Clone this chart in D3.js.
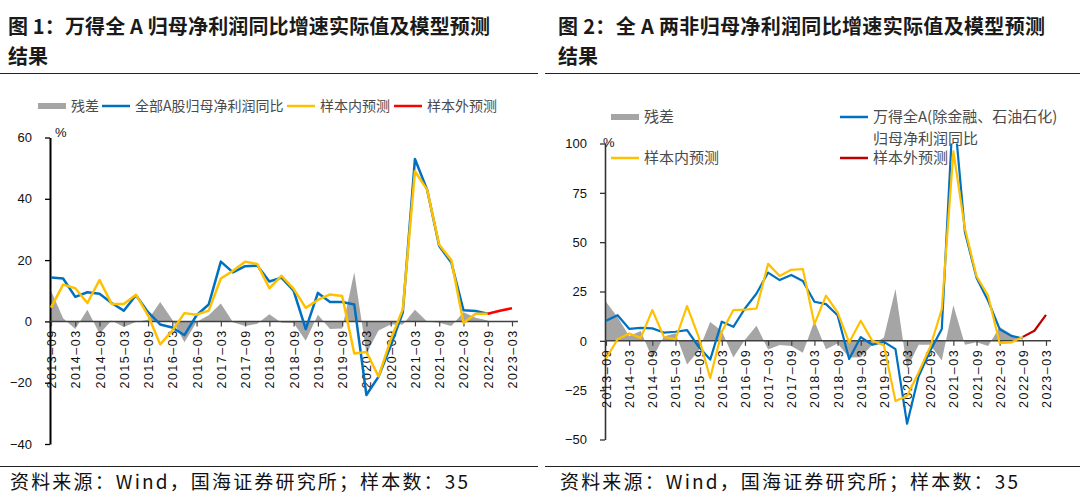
<!DOCTYPE html>
<html>
<head>
<meta charset="utf-8">
<script src="https://cdn.jsdelivr.net/npm/d3@7"></script>
<style>
  body { margin: 0; background: #fff; }
  svg { display: block; }
</style>
</head>
<body>
<svg id="chart" width="1080" height="500"></svg>
<script>
// quarters on the category axis (last two are out-of-sample)
const quarters = ["2013-09","2013-12","2014-03","2014-06","2014-09","2014-12","2015-03","2015-06",
  "2015-09","2015-12","2016-03","2016-06","2016-09","2016-12","2017-03","2017-06","2017-09","2017-12",
  "2018-03","2018-06","2018-09","2018-12","2019-03","2019-06","2019-09","2019-12","2020-03","2020-06",
  "2020-09","2020-12","2021-03","2021-06","2021-09","2021-12","2022-03","2022-06","2022-09","2022-12","2023-03"];
const tickLabels = ["2013-09","2014-03","2014-09","2015-03","2015-09","2016-03","2016-09","2017-03",
  "2017-09","2018-03","2018-09","2019-03","2019-09","2020-03","2020-09","2021-03","2021-09","2022-03",
  "2022-09","2023-03"];
const oosQuarters = ["2022-09","2022-12","2023-03"];

// chart 1: all-A net profit yoy (%)
const allAActual = [14.3, 14.0, 8.0, 9.5, 9.0, 6.0, 3.5, 8.5, 3.0, -1.0, -2.0, -4.5, 2.0, 5.5, 19.5, 16.0,
  18.0, 18.2, 13.0, 14.3, 10.0, -2.5, 9.3, 6.3, 6.3, 5.5, -24.0, -18.0, -8.0, 3.0, 53.0, 43.0, 24.6, 19.2,
  3.6, 3.4, 2.5];
const allAFit = [4.5, 12.0, 10.8, 6.0, 13.5, 5.7, 5.7, 8.7, 2.0, -7.5, -3.0, 2.7, 2.2, 3.5, 14.0, 16.5,
  19.5, 18.7, 10.8, 14.9, 10.6, 4.4, 7.0, 8.8, 8.3, -10.5, -10.0, -18.0, -6.0, 4.0, 49.0, 43.0, 25.0, 20.0,
  -0.5, 2.5, 2.5];
const allAResid = [10.0, 1.0, -2.5, 3.8, -4.0, 0.3, -1.8, -0.2, 0.5, 6.3, 0.5, -6.8, -0.2, 2.0, 5.8, -0.3,
  -1.5, -0.8, 2.3, -0.4, -0.5, -6.3, 2.2, -2.5, -2.3, 16.0, -10.5, -3.0, -1.0, -1.0, 3.8, 0.0, -0.4, -1.5,
  3.0, 1.2, 0.3];
const allAOos = [2.5, 3.5, 4.3];

// chart 2: all-A ex financials & petro net profit yoy (%)
const exFinActual = [10.2, 13.0, 6.1, 6.6, 6.3, 4.2, 4.6, 5.4, -3.0, -9.5, 9.7, 7.1, 16.4, 24.0, 34.6, 30.8,
  33.4, 30.3, 19.8, 18.6, 13.0, -9.2, 1.9, -2.0, -0.5, -4.2, -42.0, -18.0, -5.0, 6.0, 120.0, 55.0, 32.0,
  20.3, 5.9, 2.5, 1.2];
const exFinFit = [-9.0, 0.8, 3.7, 1.5, 15.6, 2.0, 0.8, 17.6, 2.0, -18.8, 4.6, 15.6, 15.8, 16.4, 39.0, 32.9,
  36.0, 36.4, 8.5, 22.9, 14.4, -0.8, 10.2, 0.0, -2.2, -30.5, -28.0, -16.0, -3.0, 16.0, 96.0, 56.8, 32.7,
  22.9, -1.2, -0.8, 2.0];
const exFinResid = [19.8, 12.0, 2.4, 5.0, -9.0, 2.2, 3.8, -12.0, -5.0, 9.5, 5.0, -8.5, 0.6, 7.6, -4.4, -2.1,
  -2.6, -6.0, 10.0, -4.3, -1.4, -8.4, -8.3, -2.0, 1.7, 26.3, -14.0, -2.0, -2.0, -10.0, 18.0, -2.0, -0.7,
  -2.6, 7.0, 3.3, -0.5];
const exFinOos = [2.0, 5.1, 13.2];

const yTicks1 = [-40, -20, 0, 20, 40, 60];
const yTicks2 = [-50, -25, 0, 25, 50, 75, 100];

const svg = d3.select("#chart");
const cjk = "'Noto Sans CJK SC', sans-serif";
const latin = "'Liberation Sans', Arial, sans-serif";

// titles, rules and source lines
function drawFrame(f) {
  f.lines.forEach((t, i) => {
    const txt = svg.append("text")
      .attr("x", f.textX).attr("y", 34 + i * 30)
      .style("font-family", cjk).style("font-weight", 700).style("font-size", "20px")
      .attr("fill", "#1a1a1a")
      .text(t);
    if (i === 0) txt.attr("textLength", f.titleLen).attr("lengthAdjust", "spacing");
  });
  svg.append("line").attr("x1", f.x0).attr("x2", f.x1).attr("y1", 73.5).attr("y2", 73.5)
    .attr("stroke", "#222").attr("stroke-width", 1);
  svg.append("line").attr("x1", f.x0).attr("x2", f.x1).attr("y1", 466.5).attr("y2", 466.5)
    .attr("stroke", "#222").attr("stroke-width", 1);
  svg.append("text")
    .attr("x", f.textX + 2).attr("y", 489)
    .attr("textLength", 458).attr("lengthAdjust", "spacing")
    .style("font-family", cjk).style("font-size", "19px")
    .attr("fill", "#111")
    .text(f.source);
}

function drawPanel(cfg) {
  const g = svg.append("g");
  const x = d3.scalePoint().domain(quarters).range(cfg.xRange);
  const y = d3.scaleLinear().domain(cfg.yDomain).range(cfg.yRange);
  const actQ = quarters.slice(0, cfg.actual.length);

  const clipId = cfg.id + "-clip";
  svg.append("clipPath").attr("id", clipId).append("rect")
    .attr("x", cfg.xRange[0] - 5).attr("y", y(cfg.yDomain[1]))
    .attr("width", cfg.axisEnd - cfg.xRange[0] + 20)
    .attr("height", y(cfg.yDomain[0]) - y(cfg.yDomain[1]));

  // residual area
  g.append("path")
    .datum(cfg.resid)
    .attr("clip-path", `url(#${clipId})`)
    .attr("d", d3.area().x((d, i) => x(actQ[i])).y0(y(0)).y1(d => y(d)))
    .attr("fill", "#a5a5a5");

  // y axis
  const yAxis = g.append("g")
    .attr("transform", `translate(${cfg.xRange[0] - 1},0)`)
    .call(d3.axisLeft(y).tickValues(cfg.yTicks).tickSize(5).tickSizeOuter(0).tickPadding(13)
      .tickFormat(d => d < 0 ? "\u2212" + Math.abs(d) : d));
  yAxis.select(".domain").attr("stroke", cfg.axisColor).attr("stroke-width", cfg.yAxisWidth);
  yAxis.selectAll(".tick line").attr("stroke", cfg.axisColor).attr("stroke-width", 1.3);
  yAxis.selectAll("text").style("font-family", latin).style("font-size", "13px").attr("fill", "#111");

  g.append("text")
    .attr("x", cfg.xRange[0] + cfg.pctDx).attr("y", y(cfg.yDomain[1]) + cfg.pctDy)
    .style("font-family", latin).style("font-size", "13px").attr("fill", "#111")
    .text("%");

  // category axis on the zero line
  const xAxis = g.append("g")
    .attr("transform", `translate(0,${y(0)})`)
    .call(d3.axisBottom(x).tickValues(tickLabels).tickSize(5).tickSizeOuter(0)
      .tickFormat(d => d.replace("-", "\u2013")));
  xAxis.select(".domain").remove();
  xAxis.append("line")
    .attr("x1", cfg.xRange[0] - 1).attr("x2", cfg.axisEnd)
    .attr("stroke", "#404040").attr("stroke-width", 1.5);
  xAxis.selectAll(".tick line").attr("stroke", "#404040").attr("stroke-width", 1.2);
  xAxis.selectAll("text")
    .attr("y", 0).attr("x", -8).attr("dy", "0.36em")
    .attr("transform", "rotate(-90)")
    .attr("text-anchor", "end")
    .style("font-family", latin).style("font-size", "12.5px").style("letter-spacing", "1.5px")
    .attr("fill", "#111");

  // lines
  const line = d3.line().x(d => x(d[0])).y(d => y(d[1]));
  const lg = g.append("g").attr("clip-path", `url(#${clipId})`)
    .attr("fill", "none").attr("stroke-linejoin", "round");
  lg.append("path").datum(d3.zip(actQ, cfg.actual)).attr("d", line)
    .attr("stroke", "#0070c0").attr("stroke-width", cfg.lineWidth);
  lg.append("path").datum(d3.zip(actQ, cfg.fit)).attr("d", line)
    .attr("stroke", "#ffc000").attr("stroke-width", cfg.lineWidth);
  lg.append("path").datum(d3.zip(oosQuarters, cfg.oos)).attr("d", line)
    .attr("stroke", cfg.redColor).attr("stroke-width", cfg.lineWidth);

  // legend
  cfg.legend.forEach(item => {
    if (item.kind === "area") {
      g.append("rect").attr("x", item.x).attr("y", item.y - 3).attr("width", 28).attr("height", 6)
        .attr("fill", "#a5a5a5");
    } else {
      g.append("line").attr("x1", item.x).attr("x2", item.x + 28).attr("y1", item.y).attr("y2", item.y)
        .attr("stroke", item.color).attr("stroke-width", 2.5);
    }
    item.text.forEach((t, k) => {
      g.append("text")
        .attr("x", item.x + 33).attr("y", item.y + 5 + k * 22)
        .style("font-family", cjk).style("font-size", cfg.legendSize)
        .attr("fill", "#4a4a4a")
        .text(t);
    });
  });
}

drawFrame({x0: 0, x1: 538, textX: 8, titleLen: 482,
  lines: ["图 1：万得全 A 归母净利润同比增速实际值及模型预测", "结果"],
  source: "资料来源：Wind，国海证券研究所；样本数：35"});
drawFrame({x0: 545, x1: 1080, textX: 558, titleLen: 487,
  lines: ["图 2：全 A 两非归母净利润同比增速实际值及模型预测", "结果"],
  source: "资料来源：Wind，国海证券研究所；样本数：35"});

drawPanel({
  id: "p1",
  actual: allAActual, fit: allAFit, resid: allAResid, oos: allAOos,
  xRange: [51, 512], axisEnd: 518,
  yDomain: [-40, 60], yRange: [444, 137.5], yTicks: yTicks1,
  axisColor: "#000", yAxisWidth: 2, lineWidth: 2.5, redColor: "#ff0000",
  pctDx: 4, pctDy: -1,
  legendSize: "14px",
  legend: [
    {kind: "area", x: 38, y: 106, text: ["残差"]},
    {kind: "line", color: "#0070c0", x: 102, y: 106, text: ["全部A股归母净利润同比"]},
    {kind: "line", color: "#ffc000", x: 287, y: 106, text: ["样本内预测"]},
    {kind: "line", color: "#ff0000", x: 394, y: 106, text: ["样本外预测"]}
  ]
});

drawPanel({
  id: "p2",
  actual: exFinActual, fit: exFinFit, resid: exFinResid, oos: exFinOos,
  xRange: [606, 1046], axisEnd: 1051,
  yDomain: [-50, 100], yRange: [439.5, 143.5], yTicks: yTicks2,
  axisColor: "#333", yAxisWidth: 1.6, lineWidth: 2.2, redColor: "#c00000",
  pctDx: -3, pctDy: 3,
  legendSize: "15px",
  legend: [
    {kind: "area", x: 611, y: 117, text: ["残差"]},
    {kind: "line", color: "#0070c0", x: 840, y: 117, text: ["万得全A(除金融、石油石化)", "归母净利润同比"]},
    {kind: "line", color: "#ffc000", x: 611, y: 158, text: ["样本内预测"]},
    {kind: "line", color: "#c00000", x: 840, y: 158, text: ["样本外预测"]}
  ]
});
</script>
</body>
</html>
